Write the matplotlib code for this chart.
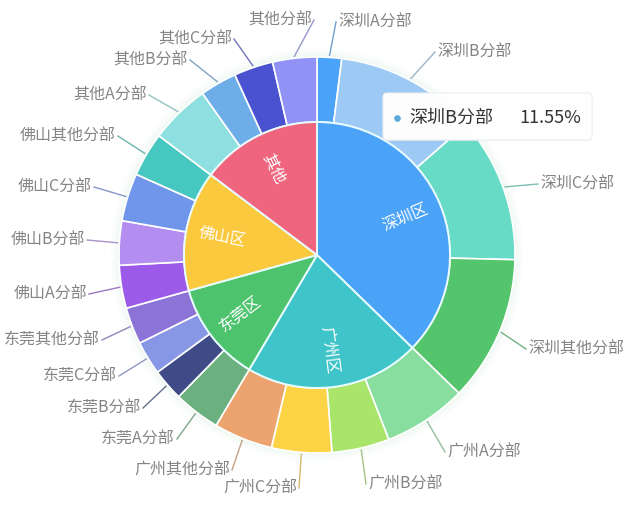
import matplotlib.pyplot as plt
from matplotlib.colors import to_rgb
from matplotlib.patches import FancyBboxPatch, Circle
import numpy as np

plt.rcParams['font.family'] = ['Noto Sans CJK SC', 'DejaVu Sans']

# inner ring (regions)
regions = ['深圳区', '广州区', '东莞区', '佛山区', '其他']
region_colors = ['#4aa3f6', '#3fc5c9', '#4dc36d', '#fbc93d', '#f0657e']

# outer ring (branches), percentage of total
branches = ['深圳A分部', '深圳B分部', '深圳C分部', '深圳其他分部',
            '广州A分部', '广州B分部', '广州C分部', '广州其他分部',
            '东莞A分部', '东莞B分部', '东莞C分部', '东莞其他分部',
            '佛山A分部', '佛山B分部', '佛山C分部', '佛山其他分部',
            '其他A分部', '其他B分部', '其他C分部', '其他分部']
branch_values = [2.0, 11.55, 11.8, 11.9,
                 6.8, 4.7, 4.9, 4.8,
                 3.8, 2.6, 2.75, 3.0,
                 3.5, 3.6, 3.9, 3.6,
                 4.9, 3.0, 3.2, 3.6]
branch_region = [0] * 4 + [1] * 4 + [2] * 4 + [3] * 4 + [4] * 4
branch_colors = ['#4aa3f6', '#9ccaf5', '#67dbc5', '#55c56d',
                 '#88de9e', '#aae56b', '#fdd346', '#eca36e',
                 '#6bb07f', '#3e4b86', '#8896e6', '#8b74d6',
                 '#9c5ae8', '#b38ef0', '#7096ec', '#46c8c0',
                 '#8ee0e0', '#6dade8', '#4b52d0', '#9092f6']

# label anchor positions (pixels, image coords)
label_pos = [(336, 22), (435, 52), (538, 184), (526, 349),
             (445, 452), (366, 484), (299, 488), (232, 470),
             (177, 439), (143, 408), (119, 376), (102, 340),
             (89, 294), (87, 240), (94, 187), (118, 136),
             (149, 95), (190, 60), (234, 39), (314, 20)]

region_values = [sum(v for v, r in zip(branch_values, branch_region) if r == i)
                 for i in range(len(regions))]

W, H = 640, 507
cx, cy = 317, H - 255
r_in, r_out = 133, 198

fig = plt.figure(figsize=(W / 100, H / 100), dpi=100)
ax = fig.add_axes([0, 0, 1, 1])

# soft glow around outer ring
for k, a in [(8, 0.05), (5, 0.07), (2.5, 0.1)]:
    ax.add_patch(Circle((cx, cy), r_out + k, color='#bfe8d0', alpha=a, lw=0))

outer, _ = ax.pie(branch_values, colors=branch_colors, radius=r_out, center=(cx, cy),
                  startangle=90, counterclock=False,
                  wedgeprops=dict(width=r_out - r_in, edgecolor='white', linewidth=1.2))
inner, _ = ax.pie(region_values, colors=region_colors, radius=r_in, center=(cx, cy),
                  startangle=90, counterclock=False,
                  wedgeprops=dict(edgecolor='#e8fbff', linewidth=1.4))

# inner labels, radial
for w, name in zip(inner, regions):
    mid = (w.theta1 + w.theta2) / 2
    rad = np.deg2rad(mid)
    x, y = cx + 96 * np.cos(rad), cy + 96 * np.sin(rad)
    rot = (mid + 90) % 180 - 90
    ax.text(x, y, name, color='white', fontsize=11.5, rotation=rot,
            ha='center', va='center', rotation_mode='anchor')

# outer labels with leader lines
grey = np.array(to_rgb('#9a9a9a'))
for w, name, col, (lx, ly) in zip(outer, branches, branch_colors, label_pos):
    mid = (w.theta1 + w.theta2) / 2
    rad = np.deg2rad(mid)
    x0, y0 = cx + (r_out + 2) * np.cos(rad), cy + (r_out + 2) * np.sin(rad)
    ly = H - ly
    left = lx > cx
    if name == '其他分部':
        left = False
    lc = 0.55 * np.array(to_rgb(col)) + 0.45 * grey
    ax.plot([x0, lx], [y0, ly], color=lc, lw=1)
    ax.text(lx + (2 if left else -2), ly, name, color='#858585', fontsize=11.5,
            ha='left' if left else 'right', va='center')

# tooltip
ax.add_patch(FancyBboxPatch((385, H - 141), 207, 46, boxstyle='round,pad=0,rounding_size=4',
                            facecolor='#e4e9ee', edgecolor='none', alpha=0.6, zorder=4))
ax.add_patch(FancyBboxPatch((383, H - 140), 209, 47, boxstyle='round,pad=0,rounding_size=4',
                            facecolor='white', edgecolor='#eeeeee', lw=0.8, alpha=0.97, zorder=5))
ax.scatter([397], [H - 118], s=14, color='#5aa9d6', zorder=6)
ax.text(409, H - 118, branches[1], fontsize=13, color='#333333', va='center', zorder=6)
ax.text(581, H - 118, '%.2f%%' % branch_values[1], fontsize=13, color='#333333',
        va='center', ha='right', zorder=6)

ax.set_xlim(0, W)
ax.set_ylim(0, H)
ax.set_aspect('equal')
ax.axis('off')

fig.savefig('out.png', dpi=100)
